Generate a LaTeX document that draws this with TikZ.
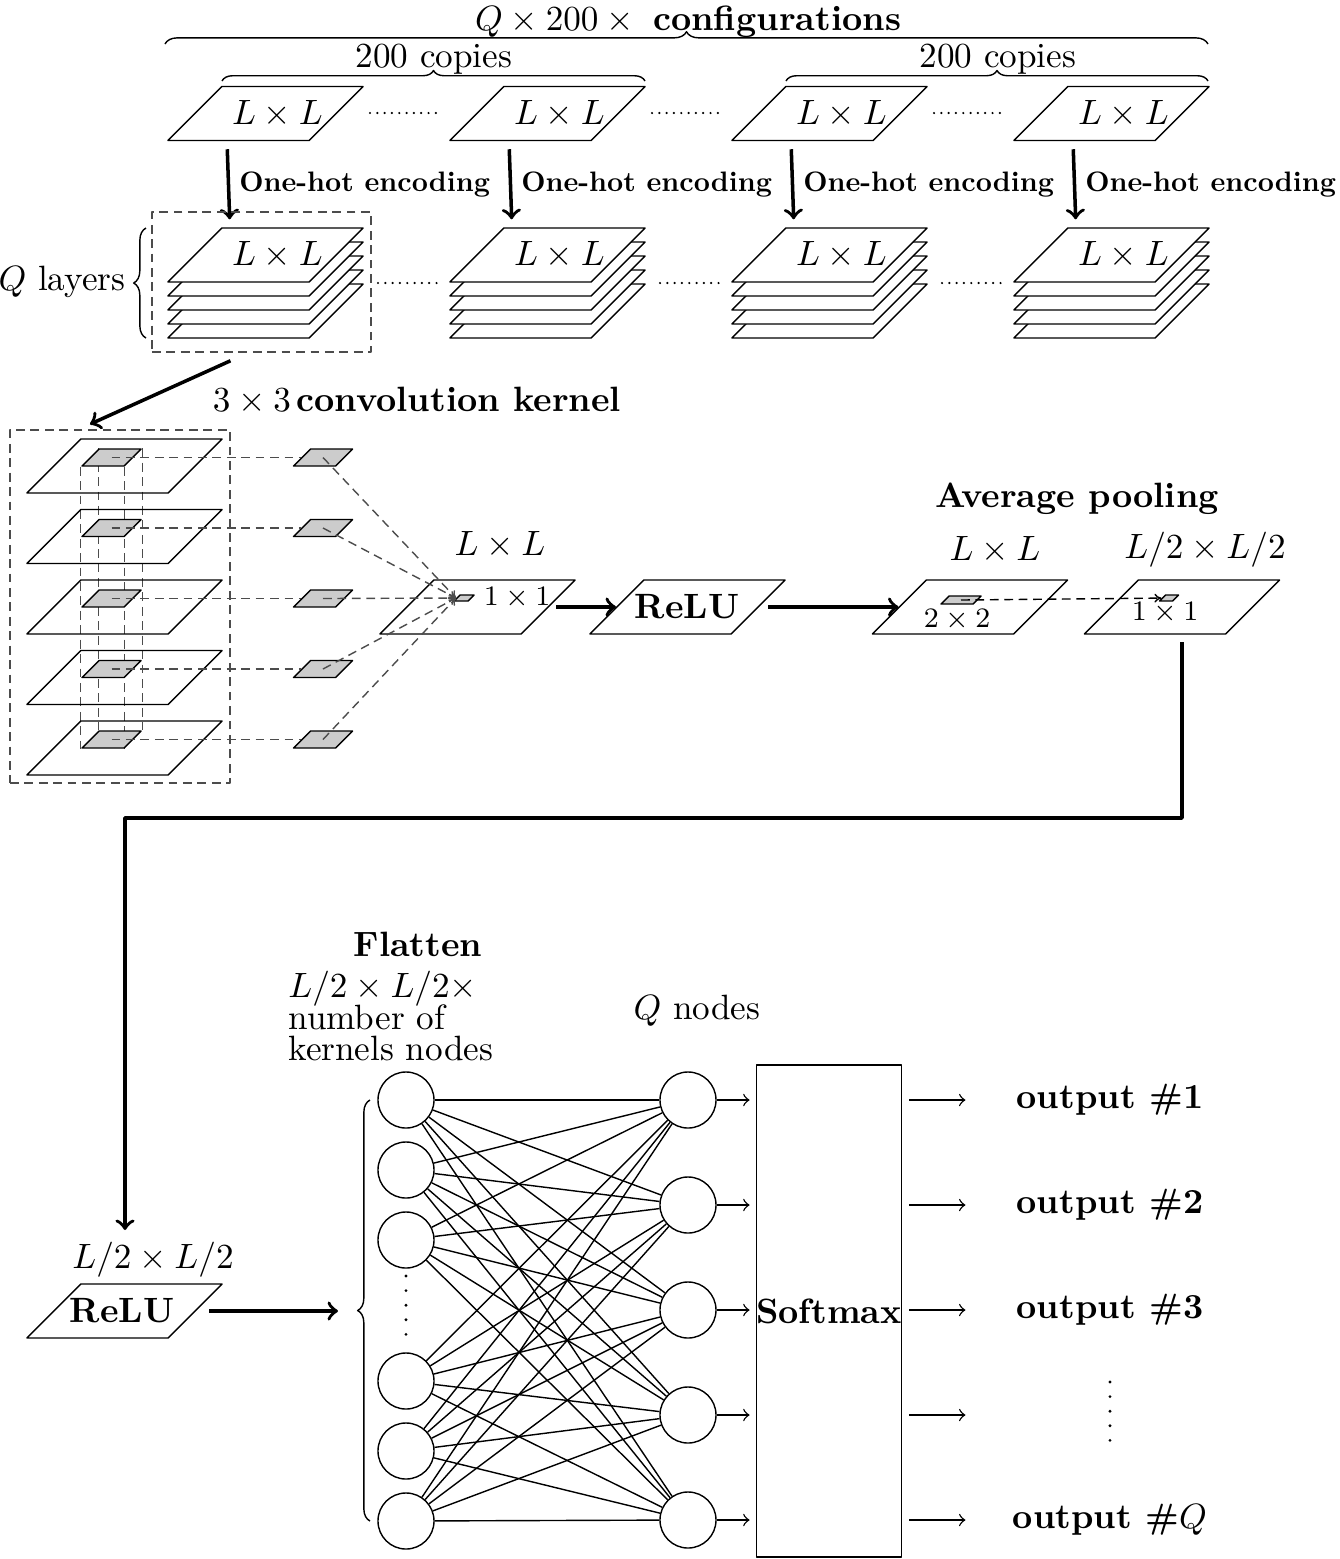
\documentclass[tikz,border=0pt]{standalone}
\usetikzlibrary{shapes.geometric,decorations.pathreplacing,backgrounds,arrows.meta}
\begin{document}
\begin{tikzpicture}[x=0.01cm,y=-0.01cm,line join=round,>=to,
	para/.style={draw,trapezium,trapezium left angle=45,trapezium right angle=135,trapezium stretches body=true,inner sep=0pt,text height=0.27cm,text depth=0.27cm,minimum width=1.95cm},
	patch/.style={para,fill=gray!40,text height=0.085cm,text depth=0.085cm,minimum width=0.59cm},
	cellp/.style={para,fill=gray!40,text height=0.03cm,text depth=0.03cm,minimum width=0.2cm},
	dashln/.style={black!70,dash pattern=on 2.5pt off 1.6pt},
	big/.style={->,line width=1pt},
	brc/.style={decorate,decoration={brace,amplitude=3.5pt}},
	dotrow/.style={line width=0.7pt,line cap=round,dash pattern=on 0pt off 2.08pt},
	vdotrow/.style={line width=0.9pt,line cap=round,dash pattern=on 0pt off 4.15pt},
	neuron/.style={draw,circle,minimum size=0.56cm,inner sep=0pt}]
	\useasboundingbox (0,0) rectangle (1340,1559);
	\node[inner sep=0pt] (title) at (688,22) {$Q\times 200\times{}$ \textbf{configurations}};
	\draw[brc] (165,44) -- (1208,44);
	\draw[brc,decoration={amplitude=3pt}] (222,81) -- (645,81);
	\draw[brc,decoration={amplitude=3pt}] (786,81) -- (1208,81);
	\node (cp1) at (434,59) {200 copies};
	\node (cp2) at (998,59) {200 copies};
	\foreach \i/\x in {1/265.5,2/547.5,3/829.5,4/1111.5}{
		\node[para] (c\i) at (\x,113.5) {};
		\node (cl\i) at (\x+12,113.5) {$L\times L$};
		\foreach \l in {4,...,0}
			\node[para,fill=white] (s\i-\l) at (\x,{255+14*\l}) {};
		\node (sl\i) at (\x+12,255) {$L\times L$};
		\draw[big] ([xshift=0.61cm,yshift=-0.08cm]c\i.bottom left corner) -- ([xshift=0.08cm,yshift=0.08cm]s\i-0.top left corner)
			node[midway,right,font=\bfseries,scale=0.8]{One-hot encoding};
	}
	\foreach \x in {370,652,934}{
		\draw[dotrow] (\x,113) -- +(73,0);
		\draw[dotrow] (\x+8,283) -- +(65,0);
	}
	\node[draw,dashln,minimum width=2.19cm,minimum height=1.4cm] (sbox) at (261.5,282) {};
	\draw[brc] (146,338) -- (146,228);
	\node (ql) at (62,282) {$Q$ layers};
	\node[draw,dashln,minimum width=2.2cm,minimum height=3.53cm] (kbox) at (120,606.5) {};
	\draw[big] ([xshift=-0.31cm,yshift=-0.08cm]sbox.south) -- ([xshift=-0.3cm,yshift=0.05cm]kbox.north);
	\node (convlab) at (417,401) {$3\times 3$\,\textbf{convolution kernel}};
	\foreach \k in {0,...,4}{
		\node[para] (ly\k) at (124.5,{466+70.5*\k}) {};
		\node[patch] (kp\k) at (111.5,{457.5+70.5*\k}) {};
		\node[patch] (sp\k) at (323,{457.5+70.5*\k}) {};
	}
	\node[para] (conv) at (477.5,607) {};
	\node (convll) at (500,545) {$L\times L$};
	\node[cellp] (cell) at (464,598) {};
	\node[font=\footnotesize] (one) at (517,598) {$1\times 1$};
	\begin{scope}[on background layer]
		\foreach \c in {top left corner,top right corner,bottom left corner,bottom right corner}
			\draw[dashln] (kp0.\c) -- (kp4.\c);
	\end{scope}
	\foreach \k in {0,...,4}{
		\draw[dashln] (kp\k.center) -- (sp\k);
		\draw[dashln,-{To[length=2pt,width=2.5pt]}] (sp\k.center) -- (cell.west);
	}
	\node[para] (relu) at (687.5,607) {};
	\node[font=\bfseries] (rl) at (687,607) {ReLU};
	\draw[big,shorten <=0.07cm] (conv) -- (relu);
	\node[para] (pool) at (970,607) {};
	\node (poollab) at (995,550) {$L\times L$};
	\node[cellp,text height=0.04cm,text depth=0.04cm,minimum width=0.4cm] (pp) at (961,600) {};
	\node[font=\footnotesize] (two) at (957,620) {$2\times 2$};
	\node (avg) at (1077,499) {\textbf{Average pooling}};
	\draw[big,shorten <=0.09cm] (relu) -- (pool);
	\node[para] (half) at (1182,607) {};
	\node (halflab) at (1205,550) {$L/2\times L/2$};
	\node[cellp,minimum width=0.19cm] (hc) at (1169,598) {};
	\node[font=\footnotesize] (one2) at (1165,613) {$1\times 1$};
	\draw[dashln,black,-{To[length=2pt,width=2.5pt]}] (pp.center) -- (hc);
	\coordinate (bend) at (125,818);
	\node[para] (relu2) at (124.5,1311) {};
	\node[font=\bfseries] (rl2) at (122,1311) {ReLU};
	\node (rlab) at (153,1260) {$L/2\times L/2$};
	\draw[big] ([yshift=-0.35cm]half.center) |- (bend) -- (bend |- rlab.north);
	\coordinate (tip) at (338,1311);
	\draw[big,shorten <=0.13cm] (relu2) -- (tip);
	\node (flat) at (418,944) {\textbf{Flatten}};
	\node[align=left,anchor=west] (flatlab) at (276,1016) {$L/2\times L/2\times$\\[-3pt]number of\\[-3pt]kernels nodes};
	\node (qn) at (697,1011) {$Q$ nodes};
	\foreach \i/\y in {1/1100,2/1170,3/1240,4/1381,5/1451,6/1521}
		\node[neuron] (in\i) at (406,\y) {};
	\draw[vdotrow] (406,1276) -- (406,1348);
	\draw[brc] (370,1521) -- (370,1100);
	\node[draw,minimum width=1.42cm,minimum height=4.92cm,inner sep=0pt,font=\bfseries] (soft) at (829,1311) {Softmax};
	\foreach \j in {1,...,5}{
		\node[neuron] (out\j) at (688,{1100+105*(\j-1)}) {};
		\foreach \i in {1,...,6}
			\draw (in\i) -- (out\j);
		\draw[->,shorten >=0.06cm] (out\j) -- (out\j -| soft.west);
		\draw[->] ([xshift=0.07cm]soft.east |- out\j) -- ([xshift=0.63cm]soft.east |- out\j);
	}
	\foreach \j/\t in {1/\#1,2/\#2,3/\#3}
		\node[font=\bfseries] (res\j) at (1110,{1100+105*(\j-1)}) {output \t};
	\draw[vdotrow] (1110,1382) -- (1110,1452);
	\node (res5) at (1110,1520) {\textbf{output \#}$Q$};
\end{tikzpicture}
\end{document}
